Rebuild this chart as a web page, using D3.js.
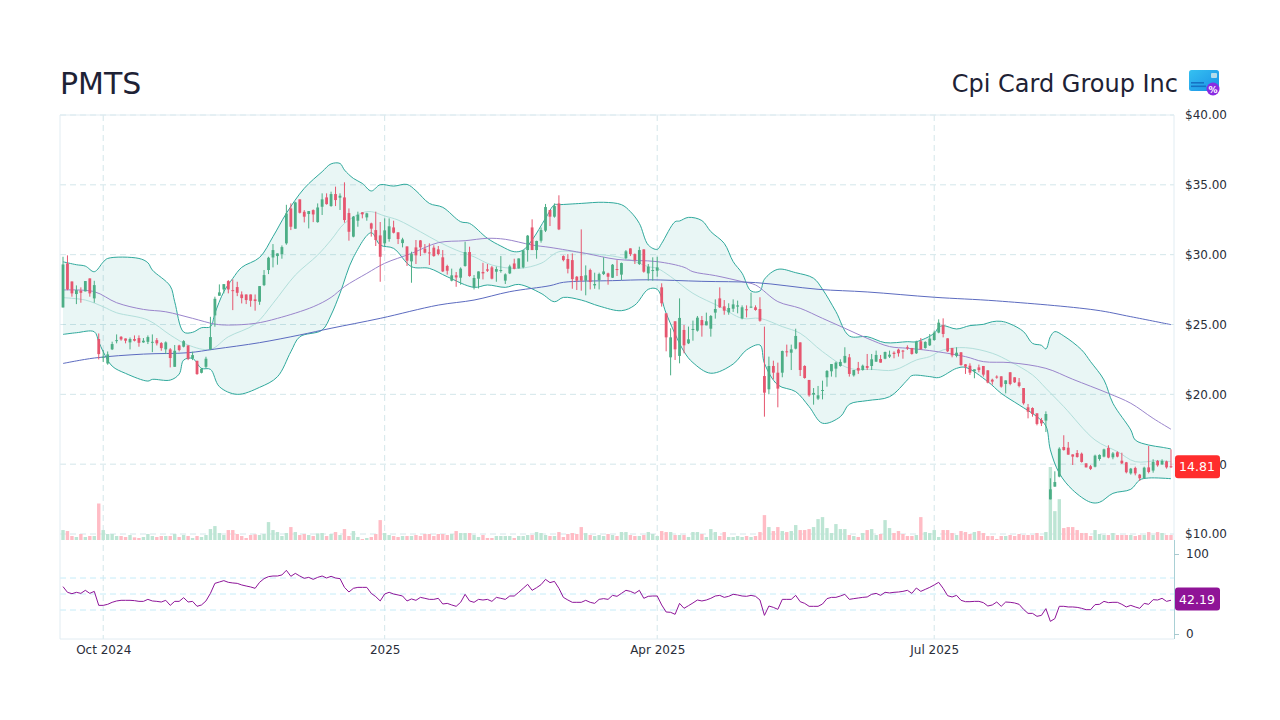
<!DOCTYPE html>
<meta charset="utf-8">
<style>
  html, body { margin: 0; padding: 0; background: #fff; }
  text { font-family: "DejaVu Sans", sans-serif; }
  .axis text { font-size: 12px; fill: #2a2e39; }
  .axis path { display: none; }
  .axis line { stroke: #a9c9cf; }
  .grid { stroke: #d3e6ea; stroke-dasharray: 6,4; fill: none; }
  .rsi-grid { stroke: #c6ecf8; stroke-dasharray: 6,4; fill: none; }
  .frame { stroke: #e1ecf2; fill: none; }
  .line { fill: none; }
</style>
<body>
<script src="https://d3js.org/d3.v7.min.js"></script>
<script>
  var ticker = 'PMTS';
  var company = 'Cpi Card Group Inc';
  var lastPrice = 14.81;
  var lastRsi = 42.19;

  var dateLabels = ['Oct 2024', '2025', 'Apr 2025', 'Jul 2025'];
  var dateBars = [9, 72, 133, 195];
  var priceTicks = [40, 35, 30, 25, 20, 15, 10];
  var rsiTicks = [100, 0];
  var rsiLevels = [70, 50, 30];

  var opens = [
    26.22,29.37,28.08,27.18,27.42,27.37,28.30,26.87,23.96,22.60,
    22.21,23.22,23.84,24.12,24.00,23.72,23.96,24.03,23.72,23.76,
    23.72,23.88,23.67,23.22,23.22,21.97,23.50,23.41,23.50,22.57,
    22.40,21.54,21.97,23.22,25.65,27.06,27.51,28.11,27.46,27.68,
    27.15,27.15,27.15,26.80,26.63,27.82,28.90,29.80,29.90,30.04,
    30.81,33.31,31.86,33.96,33.07,32.91,33.19,32.33,33.43,34.10,
    33.48,34.34,34.08,34.10,32.98,31.29,32.43,33.03,32.67,32.24,
    31.76,31.38,30.81,31.12,31.95,31.60,30.83,30.59,29.52,30.52,
    31.02,30.43,30.16,30.50,30.38,29.81,29.19,28.14,28.52,28.35,
    29.19,30.19,27.66,28.28,28.76,28.95,29.09,28.78,28.83,28.14,
    28.66,29.37,29.02,29.09,30.33,31.95,30.33,31.00,31.72,33.20,
    32.72,33.67,29.90,29.69,29.61,28.42,28.47,28.14,28.90,27.80,
    28.18,28.61,28.66,28.35,28.97,28.57,29.76,30.45,30.04,29.33,
    30.38,28.66,28.85,28.85,27.66,25.80,22.65,25.23,22.75,24.61,
    23.65,24.61,24.56,25.32,24.94,24.70,25.85,26.87,26.30,25.87,
    26.13,26.28,25.44,26.09,26.21,26.23,26.11,21.31,20.36,22.03,
    21.55,21.55,23.08,22.98,23.27,23.72,22.03,21.03,19.98,19.69,
    20.24,21.22,21.65,21.84,22.03,22.27,22.65,21.36,21.89,21.74,
    22.03,22.03,22.34,22.53,22.55,22.70,22.98,23.20,23.13,23.37,
    23.32,22.94,23.80,23.32,23.51,23.89,24.42,24.94,24.01,23.32,
    22.75,23.01,22.15,22.05,21.65,21.93,22.03,21.72,21.05,21.27,
    21.29,20.74,21.58,21.22,20.86,20.45,19.07,19.02,18.64,18.16,
    18.12,12.48,13.39,14.11,16.23,16.18,15.70,15.80,15.75,15.06,
    14.85,14.82,15.37,15.54,16.16,15.49,15.85,15.25,15.13,14.34,
    14.73,14.25,14.01,14.77,14.54,15.23,14.99,15.20,14.85
  ];
  var highs = [
    29.85,29.95,28.08,27.80,27.66,28.11,28.30,28.13,24.36,23.17,
    23.07,23.77,24.29,24.17,24.00,24.07,24.22,24.22,24.03,24.22,
    24.29,24.03,23.74,23.79,23.31,23.53,23.55,23.88,23.50,23.05,
    22.40,21.88,22.69,25.55,26.99,27.87,27.89,28.18,28.23,28.06,
    27.37,27.15,27.15,27.15,27.75,28.90,29.85,30.76,30.09,30.66,
    33.57,33.67,33.79,33.96,33.19,33.12,33.24,33.67,34.39,34.39,
    34.51,34.87,34.39,35.18,33.31,32.77,33.08,33.05,33.00,32.29,
    33.08,32.34,32.60,32.60,32.43,31.60,31.21,30.59,30.21,31.05,
    31.05,30.76,30.81,30.67,30.62,30.33,29.28,29.00,28.76,29.09,
    30.93,30.57,28.54,28.80,29.42,29.33,29.19,29.14,29.90,28.66,
    29.28,29.71,29.73,30.33,31.41,32.53,31.00,31.95,33.63,33.20,
    33.67,34.25,29.95,30.04,30.09,28.47,31.81,29.23,29.00,28.71,
    28.71,29.81,28.71,29.33,29.61,29.43,30.33,30.45,30.09,30.57,
    30.38,29.33,29.81,29.85,27.95,25.80,24.73,25.23,26.87,24.97,
    24.85,25.28,25.61,25.61,25.85,25.68,26.80,27.66,26.75,26.52,
    26.80,26.71,26.37,26.37,27.28,26.37,26.95,24.85,22.70,22.41,
    22.27,23.13,23.56,23.56,24.70,23.72,22.08,21.03,20.45,20.60,
    20.98,21.74,22.17,22.34,22.51,23.37,22.89,21.74,22.32,22.13,
    22.89,22.89,23.13,22.82,23.06,23.13,23.08,23.27,23.18,23.51,
    23.32,23.84,24.03,23.80,24.32,24.56,25.37,25.44,24.01,23.32,
    23.37,23.01,22.17,22.22,21.79,22.13,22.03,21.72,21.12,21.36,
    21.29,21.00,21.58,21.22,21.17,20.45,19.31,19.07,18.64,18.31,
    18.78,13.99,14.49,16.21,17.07,16.59,15.70,16.01,15.83,15.06,
    14.94,15.68,15.70,16.11,16.35,15.87,15.92,15.82,15.16,14.73,
    14.82,14.30,14.82,16.30,15.35,15.30,15.35,15.25,16.06
  ];
  var lows = [
    26.22,27.46,26.99,26.46,26.56,27.37,26.99,26.56,22.50,22.31,
    22.12,23.17,23.65,23.84,23.65,23.22,23.79,23.41,23.69,23.60,
    23.02,23.50,23.12,22.88,21.93,21.97,23.07,23.36,22.45,22.45,
    21.40,21.50,21.88,23.17,24.84,27.06,27.23,27.23,26.03,27.03,
    26.51,26.46,26.27,25.99,26.41,27.75,28.61,29.09,29.28,29.71,
    30.71,31.76,31.86,32.95,32.31,31.88,32.33,32.29,32.84,33.58,
    33.43,33.48,33.20,32.29,31.00,31.24,32.00,32.60,32.43,31.29,
    30.62,28.06,30.62,30.93,31.52,30.76,30.52,29.19,27.99,29.33,
    29.90,30.09,29.26,29.85,29.95,28.76,28.57,28.09,27.70,27.85,
    29.14,28.42,27.51,27.58,28.23,28.76,28.23,28.06,28.71,27.90,
    28.61,28.95,29.00,29.02,29.50,30.33,29.71,30.86,31.62,32.05,
    32.65,31.76,29.52,28.66,27.56,27.47,27.42,27.09,27.51,27.56,
    27.51,28.54,27.85,28.33,28.47,28.18,29.66,29.90,29.33,29.26,
    28.71,28.14,28.14,28.42,26.28,23.08,21.36,22.46,22.22,22.94,
    23.60,23.84,24.49,24.13,24.94,24.13,25.42,26.18,25.70,25.70,
    25.90,25.80,25.37,25.51,26.18,25.99,25.20,18.40,20.00,21.07,
    19.07,21.22,22.70,21.74,23.22,21.31,21.12,19.83,19.26,19.59,
    19.64,20.55,21.27,21.22,21.98,22.22,21.27,21.27,21.46,21.70,
    21.74,21.74,22.32,22.27,22.51,22.60,22.58,22.70,22.55,23.18,
    22.84,22.89,23.22,23.27,23.46,23.84,24.37,24.08,23.03,22.65,
    22.65,22.05,21.46,21.39,21.15,21.58,21.27,20.79,20.69,21.12,
    20.48,20.07,20.65,20.81,20.50,19.26,18.28,18.40,17.78,17.73,
    17.30,12.48,13.39,14.06,15.97,15.68,14.94,15.47,15.11,14.77,
    14.58,14.77,15.25,15.49,15.42,15.35,15.49,15.01,14.34,14.25,
    14.20,13.80,13.96,14.34,14.39,14.82,14.94,14.68,14.73
  ];
  var closes = [
    29.30,27.51,27.23,27.46,27.27,28.11,27.23,27.82,22.88,22.69,
    22.86,23.60,23.88,23.93,23.84,23.96,23.84,23.69,23.84,24.10,
    23.76,23.65,23.31,23.72,22.60,23.12,23.17,23.81,22.55,22.81,
    21.45,21.83,22.55,24.10,26.84,27.30,27.89,27.51,27.42,27.27,
    26.89,26.75,26.70,26.68,27.75,28.54,29.78,30.33,30.09,30.54,
    32.95,32.00,33.74,33.00,32.72,33.12,32.88,33.38,33.96,33.62,
    34.34,33.91,34.22,32.48,31.64,32.72,32.86,32.89,32.96,31.86,
    31.05,29.85,31.74,32.03,31.57,31.12,31.09,29.57,30.04,29.95,
    30.52,30.14,30.09,29.90,30.04,28.80,28.85,28.52,28.37,29.00,
    30.19,28.47,28.33,28.80,28.66,28.85,28.28,28.97,28.90,28.59,
    29.16,28.99,29.73,30.31,31.36,30.33,30.98,31.76,33.41,32.72,
    33.48,31.81,29.61,28.99,28.25,28.14,28.14,28.52,28.04,27.90,
    28.61,28.80,28.42,29.28,28.92,29.40,30.24,30.04,29.61,30.33,
    28.78,29.14,28.90,29.09,26.52,24.08,24.08,23.22,25.47,23.51,
    23.94,24.68,25.49,24.94,25.23,25.61,26.11,26.23,25.99,26.18,
    26.44,26.37,26.23,26.02,26.28,26.04,25.27,20.12,22.03,21.55,
    20.41,23.10,23.03,23.22,24.18,21.74,21.17,19.93,20.10,19.93,
    20.31,21.67,22.17,22.27,22.32,22.75,21.46,21.74,21.70,22.05,
    21.89,22.51,22.82,22.27,23.03,22.84,22.89,22.94,23.06,23.29,
    22.89,23.75,23.22,23.75,23.99,24.42,25.13,24.32,23.08,22.79,
    22.98,22.10,21.98,21.55,21.79,21.74,21.41,20.84,20.91,21.22,
    20.55,21.00,20.74,20.86,20.60,19.36,18.76,18.59,17.88,17.92,
    18.59,13.20,13.72,16.11,16.01,15.68,15.54,15.51,15.16,14.77,
    14.66,15.61,15.66,16.06,15.47,15.77,15.54,15.06,14.42,14.68,
    14.34,13.99,14.75,14.44,15.16,14.92,15.23,14.77,14.81
  ];
  // thousand shares
  var volumes = [
    300,270,120,90,180,90,120,120,1100,300,
    180,180,120,120,90,150,80,60,90,180,
    120,90,120,120,120,180,90,150,120,60,
    120,90,150,330,420,210,150,300,300,180,
    120,60,150,170,150,180,540,300,240,120,
    210,390,240,150,180,150,120,200,210,120,
    180,240,150,330,120,270,90,30,60,90,
    180,600,210,150,120,90,120,120,120,150,
    120,180,180,120,180,180,150,180,270,210,
    210,210,150,90,150,60,60,120,120,120,
    120,60,120,120,150,150,240,210,150,120,
    120,240,90,180,210,180,390,210,150,120,
    150,120,180,150,120,240,240,150,120,120,
    150,240,180,120,270,240,240,150,150,150,
    90,240,240,180,90,330,240,120,240,90,
    90,120,90,120,90,120,240,750,390,270,
    390,270,240,270,450,300,300,330,390,630,
    690,360,210,480,330,330,150,120,90,210,
    300,330,150,180,600,360,210,270,180,120,
    120,150,690,240,210,300,90,300,300,210,
    150,270,240,180,240,270,210,120,120,30,
    120,120,150,120,180,150,150,150,210,120,
    240,2200,870,1230,360,390,390,300,210,210,
    120,300,180,150,150,210,150,150,150,150,
    120,150,150,240,150,240,210,150,150
  ];
  var rsiValues = [
    59.2,52.1,50.4,52.1,50.8,54.6,50.8,53.3,35.8,35.8,
    37.1,39.6,41.3,42.1,42.1,42.1,41.7,40.8,40.8,43.3,
    41.3,40.8,40.0,42.1,35.8,40.8,40.8,45.4,40.0,40.8,
    34.6,36.3,41.3,50.8,63.3,65.0,66.7,64.6,63.8,63.3,
    61.3,60.0,58.8,57.1,64.6,69.2,71.7,72.5,72.5,73.8,
    79.6,72.1,75.8,72.5,69.6,70.8,68.3,70.8,72.5,70.0,
    72.1,70.0,69.2,58.3,52.5,57.1,58.3,58.3,58.3,50.8,
    46.7,41.3,50.0,52.1,50.0,48.8,47.5,41.3,43.8,42.1,
    45.8,44.6,43.3,43.3,44.6,37.5,38.3,36.3,34.6,39.6,
    49.6,41.3,39.6,43.3,42.5,43.3,40.8,45.8,44.6,43.3,
    47.5,47.5,52.1,57.1,62.1,54.6,57.9,61.7,68.3,64.2,
    65.8,57.1,45.8,42.5,39.6,39.6,39.6,42.1,39.6,38.3,
    43.3,44.2,43.3,48.3,47.1,50.8,54.6,53.3,50.8,54.6,
    44.6,47.1,47.5,47.5,36.3,27.5,27.1,24.6,38.3,32.1,
    35.4,38.8,42.5,41.3,42.5,44.6,47.5,48.3,45.8,47.1,
    49.6,48.8,47.5,47.1,48.3,47.1,42.5,23.3,35.0,33.3,
    30.8,43.3,43.3,43.3,48.3,40.4,38.3,34.6,34.6,34.6,
    37.5,44.2,45.8,45.8,47.5,49.6,43.3,44.2,45.0,45.8,
    46.3,49.6,50.8,48.3,52.1,51.3,52.1,52.5,53.3,54.6,
    50.8,57.5,53.3,55.8,58.3,61.3,64.6,57.1,47.9,46.3,
    48.3,42.1,40.4,40.4,40.8,40.8,39.2,35.0,36.3,40.0,
    34.6,40.0,39.6,38.8,37.1,30.8,25.8,25.8,22.1,23.3,
    31.7,15.8,19.2,34.6,34.6,33.8,33.8,33.3,32.1,30.4,
    30.4,36.7,37.1,40.8,39.2,39.6,39.6,37.1,33.8,35.8,
    33.8,32.1,38.3,37.1,42.9,42.5,44.6,40.8,42.19
  ];

  // [bar, price] read where each line bends
  var bollUpper = [
    [0,29.49],[3,29.28],[5,29.18],[7,28.78],[9,29.47],[10,29.73],[17,29.73],[19,29.42],[20,28.9],[24,27.75],
    [25,26.63],[27,24.46],[29,24.44],[31,24.77],[33,24.84],[34,25.8],[36,27.35],[38,28.3],[40,29.09],[44,29.8],
    [47,31.29],[50,32.96],[54,34.75],[58,35.94],[60,36.5],[62,36.53],[63,36.06],[65,35.46],[67,35.1],[69,34.56],
    [71,35.01],[74,34.91],[77,35.03],[79,34.58],[82,33.67],[85,33.39],[89,32.36],[91,32.24],[95,31.17],[98,30.62],
    [101,30.21],[103,30.33],[105,31.05],[108,32.6],[110,33.58],[111,33.58],[116,33.67],[121,33.75],[125,33.58],[127,33.08],
    [129,32.24],[131,30.69],[133,30.38],[134,30.81],[137,32.36],[138,32.41],[140,32.67],[143,32.44],[145,31.65],[148,30.81],
    [150,29.5],[152,28.67],[154,27.4],[156,27.4],[157,28.24],[160,28.95],[164,28.71],[168,28.31],[170,27.52],[173,25.92],
    [176,24.18],[180,24.13],[184,23.7],[189,23.77],[191,23.77],[195,24.37],[196,24.8],[197,24.92],[200,24.68],[203,24.92],
    [206,25.01],[208,25.2],[210,25.23],[212,25.04],[215,24.49],[217,23.65],[219,23.51],[220,23.25],[221,24.13],[222,24.49],
    [224,24.18],[228,23.18],[230,22.34],[233,21.03],[235,19.36],[239,17.45],[240,16.73],[243,16.37],[246,16.21],[248,16.09]
  ];
  var bollLower = [
    [0,24.29],[3,24.41],[7,24.48],[8,23.77],[9,23.05],[11,22.02],[14,21.5],[19,20.95],[20,21.07],[24,21.02],
    [26,21.45],[27,22.45],[29,22.57],[31,21.86],[33,21.79],[35,20.55],[39,20.0],[44,20.5],[48,21.26],[51,23.05],
    [53,24.12],[58,24.6],[60,25.68],[62,27.23],[65,29.81],[69,31.57],[71,30.69],[74,30.45],[78,29.14],[82,29.02],
    [86,28.42],[92,27.66],[95,27.83],[99,27.66],[102,27.87],[107,27.23],[110,26.63],[112,26.94],[116,26.75],[120,26.32],
    [125,25.99],[128,26.39],[131,27.52],[133,27.52],[135,25.8],[139,23.06],[141,22.27],[145,21.51],[150,22.17],[153,23.18],
    [156,23.53],[157,22.22],[160,20.67],[164,20.19],[167,19.12],[170,17.93],[174,18.4],[176,19.29],[180,19.55],[185,19.83],
    [189,21.03],[190,21.34],[194,21.27],[196,21.2],[200,21.86],[202,21.93],[207,20.91],[210,20.07],[214,19.24],[218,18.4],
    [220,17.73],[221,16.02],[223,14.35],[226,13.15],[230,12.27],[232,12.27],[235,12.91],[239,13.2],[241,13.87],[243,14.01],
    [248,13.96]
  ];
  var bollMid = [
    [0,26.92],[5,26.75],[9,26.27],[12,25.84],[19,25.32],[24,24.25],[28,23.53],[33,23.22],[37,24.12],[43,25.03],
    [47,26.51],[52,28.54],[57,29.97],[60,31.05],[63,32.24],[67,33.0],[69,33.08],[72,32.77],[75,32.48],[80,31.64],
    [84,30.93],[88,30.33],[92,29.85],[96,29.26],[102,29.02],[107,29.38],[111,30.21],[117,30.09],[123,29.9],[127,29.62],
    [131,29.14],[133,29.02],[136,28.43],[141,27.23],[147,26.28],[152,25.44],[156,25.44],[161,24.85],[165,24.37],[170,23.06],
    [176,21.86],[181,21.79],[186,21.74],[191,22.46],[194,22.7],[197,23.18],[202,23.34],[208,22.94],[212,22.34],[217,21.39],
    [220,20.43],[224,19.12],[231,16.73],[236,15.9],[240,15.18],[245,15.25],[248,15.18]
  ];
  var sma50 = [
    [0,27.47],[7,27.35],[12,26.56],[18,26.08],[23,25.91],[29,25.44],[34,25.03],[37,24.96],[43,25.08],[48,25.44],
    [56,26.27],[60,26.94],[63,27.71],[68,28.66],[72,29.38],[78,30.09],[84,30.86],[90,31.0],[95,31.17],[99,31.1],
    [105,30.69],[109,30.52],[117,30.09],[124,29.66],[133,29.5],[139,29.1],[141,28.78],[146,28.5],[152,28.07],[155,27.83],
    [160,26.64],[165,26.16],[170,25.44],[175,24.73],[180,24.01],[185,23.42],[189,23.3],[194,23.13],[202,22.7],[206,22.34],
    [212,22.27],[220,21.86],[226,21.08],[234,20.07],[239,19.36],[244,18.28],[248,17.5]
  ];
  var sma200 = [
    [0,22.21],[7,22.6],[18,22.88],[28,22.98],[34,23.24],[44,23.7],[53,24.25],[60,24.73],[71,25.44],[84,26.39],
    [92,26.75],[100,27.35],[109,27.78],[112,28.02],[123,28.14],[131,28.2],[143,28.09],[155,28.0],[169,27.52],[180,27.33],
    [195,26.95],[209,26.69],[231,26.04],[239,25.56],[248,24.99]
  ];

  var svg = d3.select('body').append('svg')
              .attr('width', 1280)
              .attr('height', 720)
              .style('display', 'block');

  var x = d3.scaleLinear().domain([0, 248]).range([63, 1171]);
  var y = d3.scaleLinear().domain([10, 40]).range([534, 115]);
  var yVol = d3.scaleLinear().domain([0, 2200]).range([540, 467]);
  var yRsi = d3.scaleLinear().domain([0, 100]).range([634, 554]);

  // title
  svg.append('text').attr('x', 60).attr('y', 94)
     .style('font-size', '30px').style('fill', '#1e2235').text(ticker);
  svg.append('text').attr('x', 1178).attr('y', 92).attr('text-anchor', 'end')
     .style('font-size', '24px').style('fill', '#1e2235').text(company);

  // card icon
  var defs = svg.append('defs');
  var grad = defs.append('linearGradient').attr('id', 'card').attr('x1', 0).attr('y1', 0).attr('x2', 1).attr('y2', 1);
  grad.append('stop').attr('offset', '0%').attr('stop-color', '#35c1f1');
  grad.append('stop').attr('offset', '100%').attr('stop-color', '#1b8fe6');
  var icon = svg.append('g').attr('transform', 'translate(1189,70)');
  icon.append('rect').attr('width', 30).attr('height', 21).attr('rx', 2.5).attr('fill', 'url(#card)');
  icon.append('rect').attr('x', 22).attr('y', 3).attr('width', 6).attr('height', 5).attr('rx', 1).attr('fill', '#b5dcea');
  icon.append('rect').attr('x', 2).attr('y', 12).attr('width', 13).attr('height', 1.6).attr('fill', '#1672c4');
  icon.append('rect').attr('x', 2).attr('y', 15.5).attr('width', 15).attr('height', 1.6).attr('fill', '#1672c4');
  icon.append('circle').attr('cx', 24).attr('cy', 19).attr('r', 6.5).attr('fill', '#8a2be2');
  icon.append('text').attr('x', 24).attr('y', 22.5).attr('text-anchor', 'middle')
      .style('font-size', '9px').style('font-weight', 'bold').style('fill', '#fff').text('%');

  // grid
  var gridG = svg.append('g');
  gridG.selectAll('.h').data(priceTicks).enter().append('line')
       .attr('class', 'grid')
       .attr('x1', 60).attr('x2', 1174)
       .attr('y1', function(d) { return y(d); })
       .attr('y2', function(d) { return y(d); });
  gridG.selectAll('.v').data(dateBars).enter().append('line')
       .attr('class', 'grid')
       .attr('y1', 115).attr('y2', 639)
       .attr('x1', function(d) { return x(d); })
       .attr('x2', function(d) { return x(d); });
  gridG.selectAll('.r').data(rsiLevels).enter().append('line')
       .attr('class', 'rsi-grid')
       .attr('x1', 60).attr('x2', 1174)
       .attr('y1', function(d) { return yRsi(d); })
       .attr('y2', function(d) { return yRsi(d); });

  // frame
  svg.append('path').attr('class', 'frame').attr('d', 'M60,639V115H1174V540');
  svg.append('path').attr('class', 'frame').attr('d', 'M60,639H1174');
  svg.append('path').attr('d', 'M1174.5,540V639').attr('stroke', '#a9d0d5').attr('fill', 'none');

  // volume
  svg.selectAll('.vol').data(volumes).enter().append('rect')
     .attr('class', 'vol')
     .attr('x', function(d, i) { return x(i) - 1.7; })
     .attr('width', 3.4)
     .attr('y', function(d) { return yVol(d); })
     .attr('height', function(d) { return 540 - yVol(d); })
     .attr('fill', function(d, i) { return closes[i] >= opens[i] ? '#bde5d4' : '#ffbcc5'; });

  // bollinger + averages, rounded between the read points
  var line = d3.line()
               .x(function(d) { return x(d[0]); })
               .y(function(d) { return y(d[1]); })
               .curve(d3.curveCatmullRom.alpha(0.5));
  svg.append('path')
     .attr('d', line(bollUpper) + 'L' + line(bollLower.slice().reverse()).slice(1) + 'Z')
     .attr('fill', 'rgba(38,166,154,0.1)');
  svg.append('path').attr('class', 'line').attr('d', line(bollMid)).attr('stroke', '#b2dfdb').attr('stroke-width', 1);
  svg.append('path').attr('class', 'line').attr('d', line(bollUpper)).attr('stroke', '#2fa99c').attr('stroke-width', 1);
  svg.append('path').attr('class', 'line').attr('d', line(bollLower)).attr('stroke', '#2fa99c').attr('stroke-width', 1);
  svg.append('path').attr('class', 'line').attr('d', line(sma50)).attr('stroke', '#9a85cc').attr('stroke-width', 1);
  svg.append('path').attr('class', 'line').attr('d', line(sma200)).attr('stroke', '#5c6bc0').attr('stroke-width', 1);

  // candles
  var candle = svg.selectAll('.candle').data(opens).enter().append('g').attr('class', 'candle');
  var candleColor = function(d, i) { return closes[i] >= d ? '#4cae86' : '#e6566f'; };
  candle.append('line')
        .attr('x1', function(d, i) { return x(i); })
        .attr('x2', function(d, i) { return x(i); })
        .attr('y1', function(d, i) { return y(highs[i]); })
        .attr('y2', function(d, i) { return y(lows[i]); })
        .attr('stroke', candleColor);
  candle.append('rect')
        .attr('x', function(d, i) { return x(i) - 1.4; })
        .attr('width', 2.8)
        .attr('y', function(d, i) { return y(Math.max(d, closes[i])); })
        .attr('height', function(d, i) { return Math.max(1, Math.abs(y(d) - y(closes[i]))); })
        .attr('fill', candleColor);

  // rsi
  var rsiLine = d3.line()
                  .x(function(d, i) { return x(i); })
                  .y(function(d) { return yRsi(d); });
  svg.append('path').attr('class', 'line').attr('d', rsiLine(rsiValues)).attr('stroke', '#8e1599').attr('stroke-width', 1);

  // axes
  svg.append('g').attr('class', 'axis').attr('transform', 'translate(1174,0)')
     .call(d3.axisRight(y).tickValues(priceTicks).tickSize(0).tickPadding(11)
             .tickFormat(function(d) { return '$' + d3.format('.2f')(d); }));
  svg.append('g').attr('class', 'axis').attr('transform', 'translate(1174,0)')
     .call(d3.axisRight(yRsi).tickValues(rsiTicks).tickSize(5).tickPadding(7));
  svg.append('g').attr('class', 'axis').attr('transform', 'translate(0,639)')
     .call(d3.axisBottom(x).tickValues(dateBars).tickSize(0).tickPadding(6)
             .tickFormat(function(d, i) { return dateLabels[i]; }));

  // last value badges
  var badge = function(yPos, color, label) {
    svg.append('rect').attr('x', 1175).attr('y', yPos - 11.5).attr('width', 45).attr('height', 23).attr('rx', 3).attr('fill', color);
    svg.append('text').attr('x', 1197).attr('y', yPos + 4.5).attr('text-anchor', 'middle')
       .style('font-size', '12.5px').style('fill', '#fff').text(label);
  };
  badge(y(lastPrice), '#ff2d2d', d3.format('.2f')(lastPrice));
  badge(yRsi(lastRsi) - 1.2, '#8f1497', d3.format('.2f')(lastRsi));
</script>
</body>
